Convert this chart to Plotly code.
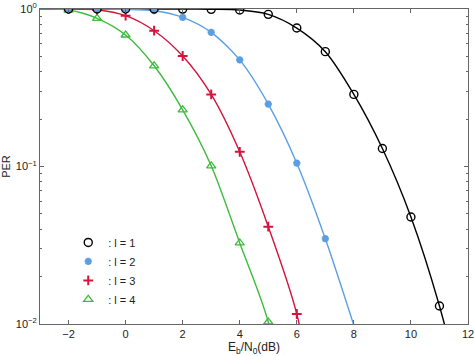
import plotly.graph_objects as go

# Eb/N0 (dB) marker positions and PER values
x_l1 = [-2, -1, 0, 1, 2, 3, 4, 5, 6, 7, 8, 9, 10, 11]
per_l1 = [1.0, 1.0, 1.0, 1.0, 0.999, 0.995, 0.985, 0.925, 0.757, 0.536, 0.287, 0.130, 0.0478, 0.0130]

x_l2 = [-2, -1, 0, 1, 2, 3, 4, 5, 6, 7]
per_l2 = [1.0, 0.999, 0.995, 0.975, 0.885, 0.711, 0.475, 0.249, 0.105, 0.0348]

x_l3 = [-2, -1, 0, 1, 2, 3, 4, 5, 6]
per_l3 = [1.0, 0.99, 0.907, 0.728, 0.503, 0.287, 0.124, 0.0415, 0.01157]

x_l4 = [-2, -1, 0, 1, 2, 3, 4, 5]
per_l4 = [0.985, 0.873, 0.684, 0.436, 0.229, 0.101, 0.0327, 0.0103]

# curve end points (left edge and beyond the lower axis limit)
x_start = -3
per_start = [1.0, 1.0, 1.0, 0.998]
x_end = [12, 8, 7, 6]
per_end = [0.0025, 0.0098, 0.0012, 0.0011]

labels = [": l = 1", ": l = 2", ": l = 3", ": l = 4"]
colors = ["#000000", "#5b9fe3", "#d4143c", "#3dbb3d"]

xs = [x_l1, x_l2, x_l3, x_l4]
ys = [per_l1, per_l2, per_l3, per_l4]

x_ticks = [-2, 0, 2, 4, 6, 8, 10, 12]
y_ticks = [0.01, 0.1, 1]
y_ticktext = ["10<sup>−2</sup>", "10<sup>−1</sup>", "10<sup>0</sup>"]
y_minor = [k * 10 ** e for e in (-2, -1) for k in range(2, 10)]

markers = [
    dict(symbol="circle-open", size=8, line=dict(width=1.4)),
    dict(symbol="asterisk-open", size=6, line=dict(width=2.2)),
    dict(symbol="cross-thin-open", size=7, line=dict(width=2.0)),
    dict(symbol="triangle-up-open", size=8, line=dict(width=1.3)),
]

fig = go.Figure()
for i in range(4):
    lx = [x_start] + xs[i] + [x_end[i]]
    ly = [per_start[i]] + ys[i] + [per_end[i]]
    fig.add_trace(go.Scatter(
        x=lx, y=ly, mode="lines", showlegend=False, hoverinfo="skip",
        line=dict(color=colors[i], width=1.4, shape="spline", smoothing=0.8),
    ))
# markers drawn last-to-first so black circles sit on top as in the reference
for i in [3, 2, 1, 0]:
    m = dict(markers[i])
    m["color"] = colors[i]
    m["line"] = dict(m["line"], color=colors[i])
    fig.add_trace(go.Scatter(
        x=xs[i], y=ys[i], mode="markers", name=labels[i],
        marker=m, legendrank=i + 1,
    ))

fig.update_layout(
    width=474, height=356,
    margin=dict(l=40, r=6, t=9, b=32),
    paper_bgcolor="white", plot_bgcolor="white",
    font=dict(family="Liberation Sans, Arial, sans-serif", size=11, color="#222"),
    legend=dict(
        x=0.066, y=0.305, xanchor="left", yanchor="top",
        bgcolor="rgba(0,0,0,0)", font=dict(size=11, color="#222"),
        itemwidth=30, traceorder="normal",
    ),
    xaxis=dict(
        range=[-3, 12], tickvals=x_ticks, ticks="inside", ticklen=4,
        showgrid=False, zeroline=False, showline=True, linecolor="#666",
        linewidth=1, mirror="ticks", tickcolor="#666", automargin=False,
        ticklabeloverflow="allow",
        title=dict(text="E<sub>b</sub>/N<sub>0</sub>(dB)", standoff=0,
                   font=dict(size=12)),
    ),
    yaxis=dict(
        type="log", range=[-2, 0], tickvals=y_ticks, ticktext=y_ticktext,
        ticks="inside", ticklen=4, showgrid=False, zeroline=False,
        showline=True, linecolor="#666", linewidth=1, mirror="ticks",
        tickcolor="#666", automargin=False, ticklabeloverflow="allow",
        minor=dict(tickvals=y_minor, ticks="inside", ticklen=2,
                   tickcolor="#666", showgrid=False),
        title=dict(text="PER", standoff=2, font=dict(size=11)),
    ),
)

fig.write_html(
    "out.html",
    config={"displayModeBar": False},
    post_script="document.body.style.margin='0';document.body.style.padding='0';",
)
